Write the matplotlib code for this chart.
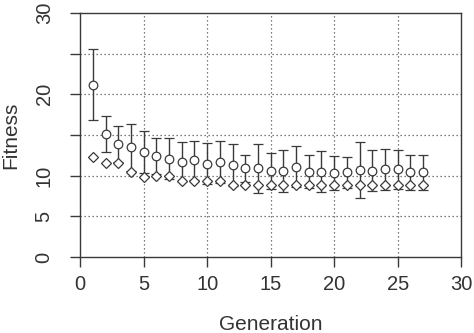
import matplotlib.pyplot as plt

# DATA
generations = list(range(1, 28))
mean_fitness = [21.2, 15.1, 13.9, 13.5, 12.9, 12.4, 12.1, 11.7, 11.9, 11.5,
                11.7, 11.3, 10.9, 10.9, 10.6, 10.6, 11.1, 10.5, 10.5, 10.3,
                10.4, 10.7, 10.6, 10.8, 10.8, 10.4, 10.4]
sd_fitness = [4.4, 2.2, 2.2, 2.9, 2.6, 2.2, 2.5, 2.4, 2.4, 2.5,
              2.6, 2.6, 1.7, 3.0, 2.2, 2.6, 2.5, 2.0, 2.5, 2.1,
              1.9, 3.4, 2.5, 2.5, 2.4, 2.1, 2.1]
best_fitness = [12.3, 11.6, 11.6, 10.5, 9.9, 10.0, 10.0, 9.4, 9.4, 9.4,
                9.4, 8.8, 8.8, 8.8, 8.9, 8.8, 8.8, 8.8, 8.8, 8.8,
                8.8, 8.8, 8.8, 8.8, 8.8, 8.8, 8.8]

x_ticks = [0, 5, 10, 15, 20, 25, 30]
y_ticks = [0, 5, 10, 15, 20, 25, 30]
y_tick_labels = ['0', '5', '10', '', '20', '', '30']

plt.rcParams['font.family'] = ['Liberation Sans', 'DejaVu Sans']
ink = '#3a3a3a'

fig = plt.figure(figsize=(4.74, 3.33), dpi=100)
ax = fig.add_axes([0.169, 0.228, 0.804, 0.733])

# DOTTED GRID
for gx in x_ticks[1:-1]:
    ax.axvline(gx, color='#555555', linestyle=(0, (1.0, 2.2)), linewidth=0.9, zorder=0)
for gy in y_ticks[1:-1]:
    ax.axhline(gy, color='#555555', linestyle=(0, (1.0, 2.2)), linewidth=0.9, zorder=0)

# MEAN +/- SD WITH CAPS
ax.errorbar(generations, mean_fitness, yerr=sd_fitness, fmt='o', mfc='white', mec=ink,
            ms=6.2, mew=0.9, ecolor=ink, elinewidth=1.0, capsize=3.3, capthick=1.0, zorder=3)

# BEST FITNESS
ax.plot(generations, best_fitness, 'D', mfc='white', mec=ink, ms=5.5, mew=0.9,
        linestyle='none', zorder=4)

ax.set_xlim(0, 30)
ax.set_ylim(0, 30)
ax.set_xticks(x_ticks)
ax.set_yticks(y_ticks)
ax.set_yticklabels(y_tick_labels, rotation=90, va='center')
ax.tick_params(axis='both', direction='out', length=7, width=1.0, color=ink,
               labelcolor='#333333', labelsize=14.5)
ax.tick_params(axis='x', pad=6)
ax.tick_params(axis='y', pad=12)
for side in ax.spines.values():
    side.set_color(ink)
    side.set_linewidth(1.0)

ax.set_xlabel('Generation', fontsize=15, color='#333333', va='center')
ax.set_ylabel('Fitness', fontsize=15, color='#333333', va='center')
ax.xaxis.set_label_coords(0.5, -0.275)
ax.yaxis.set_label_coords(-0.182, 0.5)

fig.savefig('out.png', dpi=100)
